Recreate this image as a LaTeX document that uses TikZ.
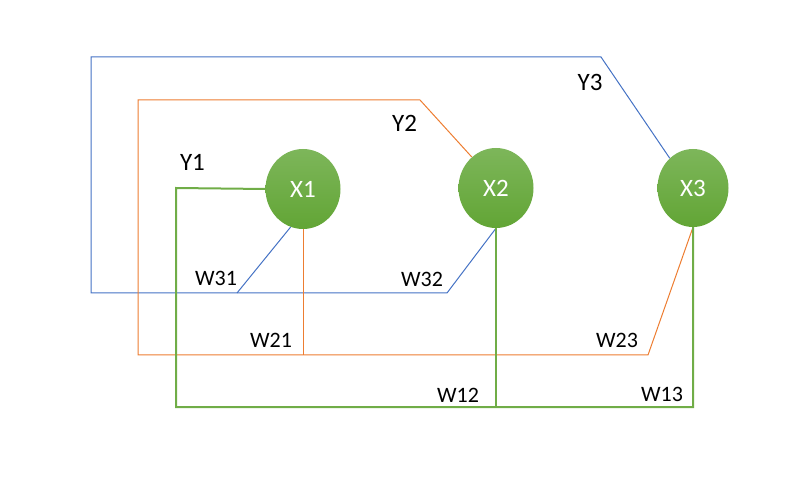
\documentclass[tikz,border=0pt]{standalone}
\usepackage{fontspec}
\setmainfont{Carlito}
\usetikzlibrary{shapes.geometric}
\definecolor{lineblue}{HTML}{4472C4}
\definecolor{lineorange}{HTML}{ED7D31}
\definecolor{linegreen}{HTML}{70AD47}
\definecolor{celltop}{HTML}{7DB65A}
\definecolor{cellbottom}{HTML}{62A535}
\begin{document}
\begin{tikzpicture}[x=1pt, y=-1pt, line join=miter,
	cell/.style={ellipse, inner sep=0pt, top color=celltop, bottom color=cellbottom, text=white, font=\fontsize{25}{28}\selectfont, minimum width=75pt, minimum height=80pt},
	ytext/.style={inner sep=0pt, font=\fontsize{25}{28}\selectfont},
	wtext/.style={inner sep=0pt, font=\fontsize{22}{26}\selectfont},
	blueline/.style={draw=lineblue, line width=1pt},
	orangeline/.style={draw=lineorange, line width=1pt},
	greenline/.style={draw=linegreen, line width=2pt}]
	\useasboundingbox (0,0) rectangle (812,497);

	% Neurons
	\node[cell] (x1) at (303, 189) {X1};
	\node[cell] (x2) at (496, 188) {X2};
	\node[cell, minimum width=71pt, minimum height=78pt] (x3) at (693, 188) {X3};

	% Y3 (blue)
	\coordinate (b1) at (601, 57);
	\coordinate (b2) at (91, 57);
	\coordinate (b3) at (91, 293);
	\coordinate (b4) at (237, 293);
	\coordinate (b5) at (447, 293);
	\draw[blueline] (x3.128) -- (b1) -- (b2) -- (b3) -- (b5) -- (x2.south);
	\draw[blueline] (b4) -- (x1.252);

	% Y2 (orange)
	\coordinate (o1) at (420, 100);
	\coordinate (o2) at (138, 100);
	\coordinate (o3) at (138, 355);
	\coordinate (o4) at (303, 355);
	\coordinate (o5) at (648, 355);
	\draw[orangeline] (x2.128) -- (o1) -- (o2) -- (o3) -- (o5) -- (x3.south);
	\draw[orangeline] (x1.south) -- (o4);

	% Y1 (green)
	\coordinate (g1) at (176, 188);
	\coordinate (g2) at (176, 407);
	\coordinate (g3) at (496, 407);
	\coordinate (g4) at (693, 407);
	\draw[greenline] (x1.west) -- (g1) -- (g2) -- (g4) -- (x3.south);
	\draw[greenline] (x2.south) -- (g3);

	% Labels
	\node[ytext] (y1) at (192.5, 162.5) {Y1};
	\node[ytext] (y2) at (404.5, 123.5) {Y2};
	\node[ytext] (y3) at (590, 82) {Y3};
	\node[wtext] (w31) at (216, 278) {W31};
	\node[wtext] (w32) at (422, 279) {W32};
	\node[wtext] (w21) at (271, 340) {W21};
	\node[wtext] (w23) at (617, 340) {W23};
	\node[wtext] (w12) at (458, 395) {W12};
	\node[wtext] (w13) at (662, 394) {W13};
\end{tikzpicture}
\end{document}
